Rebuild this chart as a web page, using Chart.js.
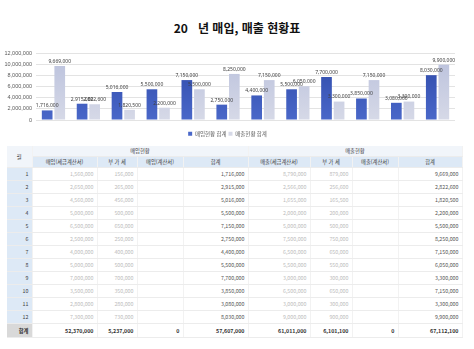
<!DOCTYPE html>
<html lang="ko">
<head>
<meta charset="utf-8">
<script src="https://cdn.jsdelivr.net/npm/chart.js@4/dist/chart.umd.min.js"></script>
<style>
  html, body { margin: 0; padding: 0; background: #fff; width: 474px; height: 349px; overflow: hidden; }
  body { position: relative; font-family: "Noto Sans CJK KR", "Noto Sans", sans-serif; }
  #title { position: absolute; left: 0; top: 19px; width: 474px; text-align: center; font-size: 12px; font-weight: bold; color: #111; white-space: pre; }
  #chartBox { position: absolute; left: 0; top: 45px; width: 474px; height: 94px; }
  #tbl { position: absolute; left: 7px; top: 146px; width: 455px; border-collapse: collapse; table-layout: fixed; font-size: 5.3px; }
  #tbl td, #tbl th { padding: 0 3px; border-bottom: 1px solid #ececec; border-right: 1px solid #f2f2f2; white-space: nowrap; overflow: hidden; }
  #tbl th { font-weight: normal; color: #404040; text-align: center; }
  .h1 th { height: 10px; background: #f1f5fa; }
  .h2 th { height: 10px; background: #dde9f6; }
  .mon { background: #dde9f6; text-align: center; color: #404040; }
  #tbl tbody td { height: 12px; text-align: right; }
  .inp { color: #bcbcbc; }
  .sum { color: #555; }
  .tot td { font-weight: bold; color: #333; height: 13px !important; }
  .tot td.mon { background: #d9d9d9; }
</style>
</head>
<body>
<div id="title">20   년 매입, 매출 현황표</div>
<div id="chartBox"><canvas id="chart"></canvas></div>
<table id="tbl">
  <colgroup>
    <col style="width:25px"><col style="width:65px"><col style="width:40px"><col style="width:46px"><col style="width:65px">
    <col style="width:62px"><col style="width:42px"><col style="width:46px"><col style="width:64px">
  </colgroup>
  <thead>
    <tr class="h1">
      <th rowspan="2" class="mon">월</th>
      <th colspan="4">매입현황</th>
      <th colspan="4">매출현황</th>
    </tr>
    <tr class="h2">
      <th>매입(세금계산서)</th><th>부 가 세</th><th>매입(계산서)</th><th>합계</th>
      <th>매출(세금계산서)</th><th>부 가 세</th><th>매출(계산서)</th><th>합계</th>
    </tr>
  </thead>
  <tbody id="tbody"></tbody>
</table>
<script>
// 월
const months = ['1', '2', '3', '4', '5', '6', '7', '8', '9', '10', '11', '12'];

// 매입현황
const buyTax = [1560000, 2650000, 4560000, 5000000, 6500000, 2500000, 4000000, 5000000, 7000000, 3500000, 2800000, 7300000];
const buyVat = [156000, 265000, 456000, 500000, 650000, 250000, 400000, 500000, 700000, 350000, 280000, 730000];
const buyTotal = [1716000, 2915000, 5016000, 5500000, 7150000, 2750000, 4400000, 5500000, 7700000, 3850000, 3080000, 8030000];

// 매출현황
const sellTax = [8790000, 2566000, 1655000, 2000000, 5000000, 7500000, 6500000, 5500000, 3000000, 6500000, 3000000, 9000000];
const sellVat = [879000, 256600, 165500, 200000, 500000, 750000, 650000, 550000, 300000, 650000, 300000, 900000];
const sellTotal = [9669000, 2822600, 1820500, 2200000, 5500000, 8250000, 7150000, 6050000, 3300000, 7150000, 3300000, 9900000];

// y축 눈금
const yTicks = [0, 2000000, 4000000, 6000000, 8000000, 10000000, 12000000];

const fmt = v => v.toLocaleString('en-US');
const sum = arr => arr.reduce((a, b) => a + b, 0);

// 표 만들기
const tbody = document.getElementById('tbody');
months.forEach((m, i) => {
    const tr = document.createElement('tr');
    tr.innerHTML =
        `<td class="mon">${m}</td>` +
        `<td class="inp">${fmt(buyTax[i])}</td><td class="inp">${fmt(buyVat[i])}</td><td class="inp"></td><td class="sum">${fmt(buyTotal[i])}</td>` +
        `<td class="inp">${fmt(sellTax[i])}</td><td class="inp">${fmt(sellVat[i])}</td><td class="inp"></td><td class="sum">${fmt(sellTotal[i])}</td>`;
    tbody.appendChild(tr);
});
const totRow = document.createElement('tr');
totRow.className = 'tot';
totRow.innerHTML =
    `<td class="mon">합계</td>` +
    `<td>${fmt(sum(buyTax))}</td><td>${fmt(sum(buyVat))}</td><td>0</td><td>${fmt(sum(buyTotal))}</td>` +
    `<td>${fmt(sum(sellTax))}</td><td>${fmt(sum(sellVat))}</td><td>0</td><td>${fmt(sum(sellTotal))}</td>`;
tbody.appendChild(totRow);

// 막대 그라데이션
function barGradient(ctx, chartArea, top, bottom) {
    const g = ctx.createLinearGradient(0, chartArea.top, 0, chartArea.bottom);
    g.addColorStop(0, top);
    g.addColorStop(1, bottom);
    return g;
}

// 값 라벨 플러그인
const valueLabels = {
    id: 'valueLabels',
    afterDatasetsDraw(chart) {
        const ctx = chart.ctx;
        ctx.save();
        ctx.font = '5px "Noto Sans", sans-serif';
        ctx.fillStyle = '#404040';
        ctx.textAlign = 'center';
        ctx.textBaseline = 'bottom';
        chart.data.datasets.forEach((ds, di) => {
            chart.getDatasetMeta(di).data.forEach((bar, i) => {
                ctx.fillText(fmt(ds.data[i]), bar.x, bar.y - 2);
            });
        });
        ctx.restore();
    }
};

const ctx = document.getElementById('chart').getContext('2d');
new Chart(ctx, {
    type: 'bar',
    data: {
        labels: months,
        datasets: [{
            label: '매입현황 합계',
            data: buyTotal,
            backgroundColor: c => c.chart.chartArea ? barGradient(c.chart.ctx, c.chart.chartArea, '#2c47a6', '#4a68c9') : '#3555b5',
            categoryPercentage: 0.72,
            barPercentage: 0.85
        }, {
            label: '매출현황 합계',
            data: sellTotal,
            backgroundColor: c => c.chart.chartArea ? barGradient(c.chart.ctx, c.chart.chartArea, '#b9c0dc', '#d6d9e7') : '#c5cae0',
            categoryPercentage: 0.72,
            barPercentage: 0.85
        }]
    },
    options: {
        responsive: true,
        maintainAspectRatio: false,
        animation: false,
        layout: { padding: { left: 0, right: 19, top: 8, bottom: 0 } },
        plugins: {
            legend: {
                position: 'bottom',
                maxHeight: 10,
                labels: {
                    boxWidth: 4,
                    boxHeight: 4,
                    padding: 2,
                    color: '#595959',
                    font: { size: 5.5, family: '"Noto Sans CJK KR", sans-serif' }
                }
            },
            tooltip: { enabled: false }
        },
        scales: {
            x: {
                grid: { display: false },
                border: { display: false },
                afterFit: s => { s.height = 9; },
                ticks: { color: '#595959', font: { size: 5.5 }, padding: 2 }
            },
            y: {
                min: 0,
                max: 12000000,
                afterBuildTicks: s => { s.ticks = yTicks.map(v => ({ value: v })); },
                afterFit: s => { s.width = 36; },
                grid: { color: '#e3e3e3', drawTicks: false },
                border: { display: false },
                ticks: { autoSkip: false, color: '#595959', font: { size: 5.5 }, padding: 4, callback: v => fmt(v) }
            }
        }
    },
    plugins: [valueLabels]
});
</script>
</body>
</html>
